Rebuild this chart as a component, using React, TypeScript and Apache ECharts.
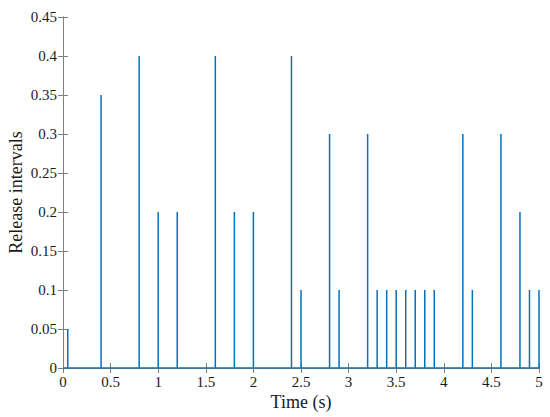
import React, { useEffect, useRef } from "react";
import * as echarts from "echarts";

const times = [0.05, 0.4, 0.8, 1.0, 1.2, 1.6, 1.8, 2.0, 2.4, 2.5, 2.8, 2.9, 3.2, 3.3, 3.4, 3.5, 3.6, 3.7, 3.8, 3.9, 4.2, 4.3, 4.6, 4.8, 4.9, 5.0];
const intervals = [0.05, 0.35, 0.4, 0.2, 0.2, 0.4, 0.2, 0.2, 0.4, 0.1, 0.3, 0.1, 0.3, 0.1, 0.1, 0.1, 0.1, 0.1, 0.1, 0.1, 0.3, 0.1, 0.3, 0.2, 0.1, 0.1];
const xTicks = ["0", "0.5", "1", "1.5", "2", "2.5", "3", "3.5", "4", "4.5", "5"];
const yTicks = ["0", "0.05", "0.1", "0.15", "0.2", "0.25", "0.3", "0.35", "0.4", "0.45"];

const FONT = "'Liberation Serif', 'DejaVu Serif', serif";
const AXIS = "#808080";
const TEXT = "#1a1a1a";

export default function App() {
  const ref = useRef<HTMLDivElement>(null);
  useEffect(() => {
    if (!ref.current) return;
    const chart = echarts.init(ref.current, undefined, { renderer: "svg" });
    const pts: number[][] = [[0, 0]];
    times.forEach((t, i) => {
      pts.push([t, 0], [t, intervals[i]], [t, 0]);
    });
    const xLabel = (v: number) => {
      const s = xTicks.find((k) => Math.abs(parseFloat(k) - v) < 1e-9);
      return s ?? "";
    };
    const yLabel = (v: number) => {
      const s = yTicks.find((k) => Math.abs(parseFloat(k) - v) < 1e-9);
      return s ?? "";
    };
    const baseAxis = {
      axisLine: { show: true, lineStyle: { color: AXIS, width: 1 } },
      axisTick: { show: true, inside: true, length: 5, lineStyle: { color: AXIS } },
      splitLine: { show: false },
    };
    chart.setOption({
      animation: false,
      backgroundColor: "#ffffff",
      grid: { left: 63, right: 11, top: 17, bottom: 49, containLabel: false, outerBoundsMode: "none" },
      xAxis: [
        {
          ...baseAxis,
          type: "value",
          min: 0,
          max: 5,
          interval: 0.5,
          position: "bottom",
          axisLabel: { formatter: xLabel, color: TEXT, fontFamily: FONT, fontSize: 15, margin: 6 },
          name: "Time (s)",
          nameLocation: "middle",
          nameGap: 25,
          nameMoveOverlap: false,
          nameTextStyle: { color: TEXT, fontFamily: FONT, fontSize: 18 },
        },
        {
          ...baseAxis,
          type: "value",
          min: 0,
          max: 5,
          interval: 0.5,
          position: "top",
          axisLabel: { show: false },
        },
      ],
      yAxis: [
        {
          ...baseAxis,
          type: "value",
          min: 0,
          max: 0.45,
          interval: 0.05,
          position: "left",
          axisLabel: { formatter: yLabel, color: TEXT, fontFamily: FONT, fontSize: 15, margin: 6 },
          name: "Release intervals",
          nameLocation: "middle",
          nameGap: 38,
          nameMoveOverlap: false,
          nameTextStyle: { color: TEXT, fontFamily: FONT, fontSize: 18 },
        },
        {
          ...baseAxis,
          type: "value",
          min: 0,
          max: 0.45,
          interval: 0.05,
          position: "right",
          axisLabel: { show: false },
        },
      ],
      series: [
        {
          type: "line",
          data: pts,
          xAxisIndex: 0,
          yAxisIndex: 0,
          showSymbol: false,
          symbol: "none",
          lineStyle: { color: "#0072BD", width: 1.5 },
          clip: true,
        },
      ],
    });
    return () => chart.dispose();
  }, []);
  return <div ref={ref} style={{ width: 550, height: 417, position: "absolute", left: 0, top: 0 }} />;
}
